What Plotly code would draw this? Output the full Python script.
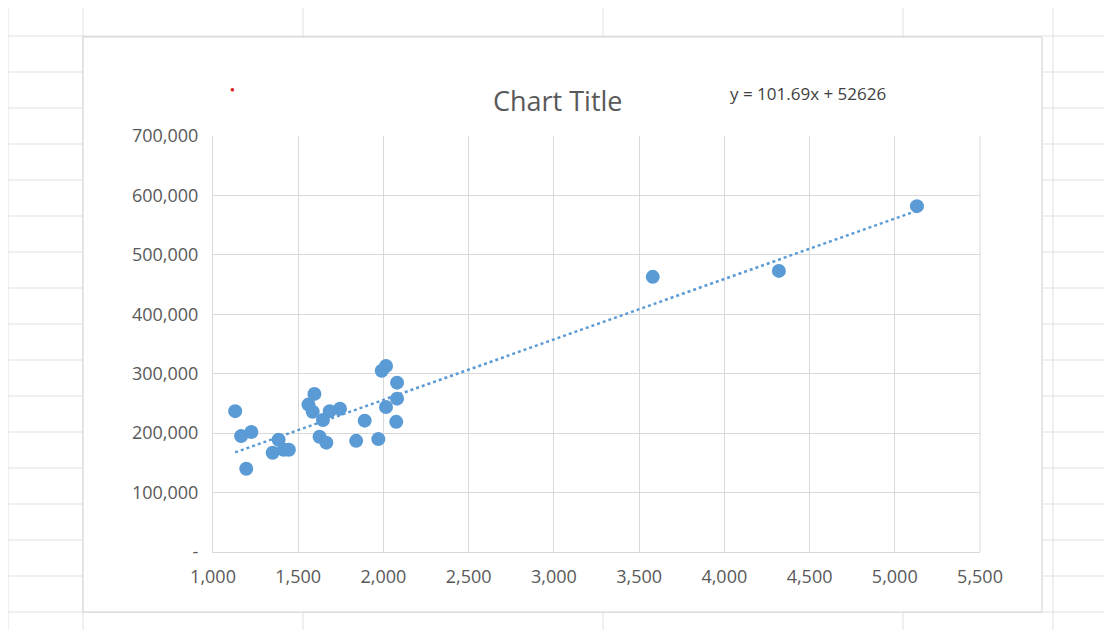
import numpy as np
import plotly.graph_objects as go

# pixel-read values
sqft = [1130, 1165, 1225, 1195, 1350, 1385, 1445, 1415, 1595, 1560, 1585, 1645,
        1685, 1745, 1625, 1665, 1840, 1890, 1970, 1990, 2015, 2080, 2015, 2080,
        2075, 3580, 4320, 5130]
price = [237000, 195000, 202000, 140000, 167000, 189000, 172000, 172000, 266000,
         248000, 236000, 222000, 237000, 241000, 194000, 184000, 187000, 221000,
         190000, 305000, 313000, 285000, 244000, 258000, 219000, 463000, 473000,
         582000]

slope, icpt = 101.69, 52626
xs = np.array([min(sqft), max(sqft)])

L, T, W, H = 205, 128, 767, 416


def px(x):
    return (x - L) / W


def py(y):
    return (T + H - y) / H


grey = "#d9d9d9"
fig = go.Figure()
fig.add_trace(go.Scatter(x=xs, y=slope * xs + icpt, mode="lines",
                         line=dict(color="#5b9bd5", width=2.5, dash="dot"),
                         hoverinfo="skip"))
fig.add_trace(go.Scatter(x=sqft, y=price, mode="markers",
                         marker=dict(color="#5b9bd5", size=14)))

# spreadsheet cell grid behind the chart
shapes = []
for x in [0, 75, 295, 595, 895, 1045]:
    shapes.append(dict(type="line", xref="paper", yref="paper", x0=px(x), x1=px(x),
                       y0=py(0), y1=py(630), line=dict(color="#e1e1e1", width=1), layer="below"))
for y in range(28, 630, 36):
    shapes.append(dict(type="line", xref="paper", yref="paper", x0=px(0), x1=px(1112),
                       y0=py(y), y1=py(y), line=dict(color="#e1e1e1", width=1),
                       layer="below"))
shapes.append(dict(type="rect", xref="paper", yref="paper", x0=px(75), x1=px(1034),
                   y0=py(604), y1=py(29), fillcolor="white",
                   line=dict(color="#d0d0d0", width=1), layer="below"))

fig.update_layout(
    width=1112, height=630, showlegend=False,
    paper_bgcolor="white", plot_bgcolor="rgba(0,0,0,0)",
    margin=dict(l=L, r=1112 - L - W, t=T, b=630 - T - H),
    font=dict(family="Open Sans", color="#595959", size=18),
    shapes=shapes,
    annotations=[
        dict(text="Chart Title", xref="paper", yref="paper", x=px(550),
             y=py(72), showarrow=False, font=dict(size=27, color="#595959")),
        dict(text="y = 101.69x + 52626", xref="paper", yref="paper",
             x=px(880), y=py(72), showarrow=False,
             font=dict(size=17, color="#404040")),
        dict(text="●", xref="paper", yref="paper", x=px(220), y=py(73),
             showarrow=False, font=dict(size=8, color="#e02020")),
    ],
    xaxis=dict(range=[1000, 5500], dtick=500, tickformat=",", showgrid=True,
               gridcolor=grey, zeroline=False, showline=True, linecolor=grey,
               mirror=False, ticks="", ticklabelstandoff=8),
    yaxis=dict(range=[0, 700000], tickvals=list(range(0, 700001, 100000)),
               ticktext=["-"] + [f"{v:,}" for v in range(100000, 700001, 100000)],
               showgrid=True, gridcolor=grey, zeroline=False, showline=True,
               linecolor=grey, ticks="", ticklabelstandoff=10),
)
fig.add_shape(type="line", xref="paper", yref="paper", x0=1, x1=1, y0=0, y1=1,
              line=dict(color=grey, width=1))
fig.write_html("out.html")
